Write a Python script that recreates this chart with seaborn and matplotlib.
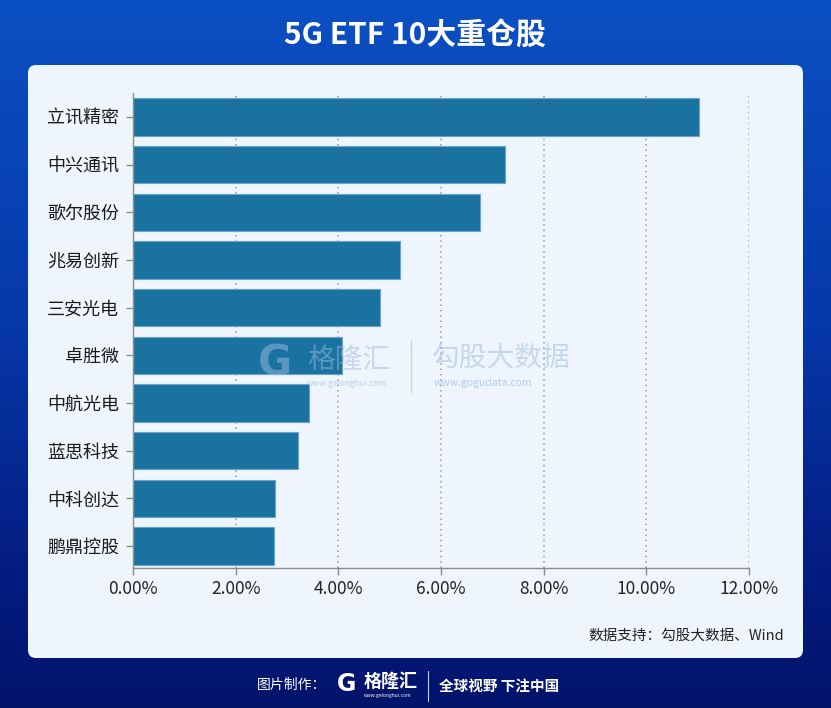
import numpy as np
import matplotlib
matplotlib.use("Agg")
import matplotlib.pyplot as plt
import seaborn as sns
from matplotlib.patches import FancyBboxPatch
from matplotlib.colors import LinearSegmentedColormap

# ---- data ----
stocks = ["立讯精密", "中兴通讯", "歌尔股份", "兆易创新", "三安光电",
          "卓胜微", "中航光电", "蓝思科技", "中科创达", "鹏鼎控股"]
weights = [11.02, 7.24, 6.76, 5.20, 4.82, 4.08, 3.43, 3.21, 2.77, 2.75]
x_ticks = [0, 2, 4, 6, 8, 10, 12]
x_tick_labels = ["0.00%", "2.00%", "4.00%", "6.00%", "8.00%", "10.00%", "12.00%"]
title = "5G ETF 10大重仓股"
source = "数据支持：勾股大数据、Wind"
footer_left = "图片制作："
footer_brand = "格隆汇"
footer_site = "www.gelonghui.com"
footer_slogan = "全球视野 下注中国"
wm_brand2 = "勾股大数据"
wm_site2 = "www.gogudata.com"

sns.set_theme(style="white")
plt.rcParams["font.family"] = ["Noto Sans CJK SC", "DejaVu Sans"]

W, H = 831, 708
fig = plt.figure(figsize=(W / 100, H / 100), dpi=100)

# background gradient + panel
bg = fig.add_axes([0, 0, 1, 1], zorder=0)
bg.set_xlim(0, W)
bg.set_ylim(H, 0)
bg.axis("off")
cmap = LinearSegmentedColormap.from_list(
    "bg", [(0, "#0b50c2"), (0.45, "#0639aa"), (0.8, "#041d82"), (1, "#02136a")])
grad = np.linspace(0, 1, 256).reshape(-1, 1)
bg.imshow(grad, cmap=cmap, extent=[0, W, H, 0], aspect="auto", zorder=0)
bg.add_patch(FancyBboxPatch((28, 65), 775, 593,
                            boxstyle="round,pad=0,rounding_size=8",
                            fc="#eef5fc", ec="none", zorder=1))
bg.text(415, 35, title, color="white", fontsize=21.5, fontweight="bold",
        ha="center", va="center", zorder=2)
bg.text(784, 636, source, color="#222222", fontsize=10.5, ha="right",
        va="center", zorder=2)

# footer
bg.text(257, 685, footer_left, color="white", fontsize=10, ha="left",
        va="center", zorder=2)
bg.text(347, 684, "G", color="white", fontsize=17, fontweight="heavy",
        ha="center", va="center", family=["DejaVu Sans"], zorder=2)
bg.text(364, 681, footer_brand, color="white", fontsize=13, fontweight="bold",
        ha="left", va="center", zorder=2)
bg.text(364, 695, footer_site, color="white", fontsize=3.5, ha="left",
        va="center", zorder=2)
bg.plot([428, 428], [671, 701], color="white", lw=0.8, alpha=0.8, zorder=2)
bg.text(439, 686, footer_slogan, color="white", fontsize=10.5,
        fontweight="bold", ha="left", va="center", zorder=2)

# main chart
left, right, top, bottom = 133, 749, 93, 568
ax = fig.add_axes([left / W, (H - bottom) / H, (right - left) / W,
                   (bottom - top) / H], zorder=2)
ax.set_facecolor("none")
sns.barplot(x=weights, y=stocks, orient="h", color="#1a72a0", saturation=1,
            width=0.785, edgecolor="#6aa3cf", linewidth=0.8, ax=ax)
ax.set_xlim(0, 12)
ax.set_ylim(9.46, -0.5)
ax.set_xticks(x_ticks)
ax.set_xticklabels(x_tick_labels)
ax.grid(axis="x", color="#999999", linestyle=(0, (1, 2.5)), linewidth=1.1)
ax.grid(axis="y", visible=False)
ax.set_axisbelow(True)
for s in ["top", "right"]:
    ax.spines[s].set_visible(False)
for s in ["left", "bottom"]:
    ax.spines[s].set_color("#8c8c8c")
    ax.spines[s].set_linewidth(1)
ax.tick_params(axis="x", direction="out", length=5, width=1, color="#8c8c8c",
               labelsize=12.5, labelcolor="#222222", pad=4, bottom=True)
ax.tick_params(axis="y", direction="out", length=5, width=1, color="#8c8c8c",
               labelsize=13, labelcolor="#1a1a1a", pad=5, left=True)
ax.set_xlabel("")
ax.set_ylabel("")

# watermark overlay
ov = fig.add_axes([0, 0, 1, 1], zorder=3)
ov.set_xlim(0, W)
ov.set_ylim(H, 0)
ov.axis("off")
wm = "#9dbbe0"
ov.text(275, 364, "G", color=wm, alpha=0.5, fontsize=30, fontweight="heavy",
        ha="center", va="center", family=["DejaVu Sans"])
ov.text(307, 360, footer_brand, color=wm, alpha=0.5, fontsize=20,
        ha="left", va="center")
ov.text(307, 383, footer_site, color=wm, alpha=0.6, fontsize=6,
        ha="left", va="center")
ov.plot([411, 411], [340, 392], color=wm, lw=1, alpha=0.5)
ov.text(432, 358, wm_brand2, color=wm, alpha=0.5, fontsize=20,
        ha="left", va="center")
ov.text(434, 383, wm_site2, color=wm, alpha=0.7, fontsize=7.5,
        ha="left", va="center")

fig.savefig("out.png", dpi=100)
